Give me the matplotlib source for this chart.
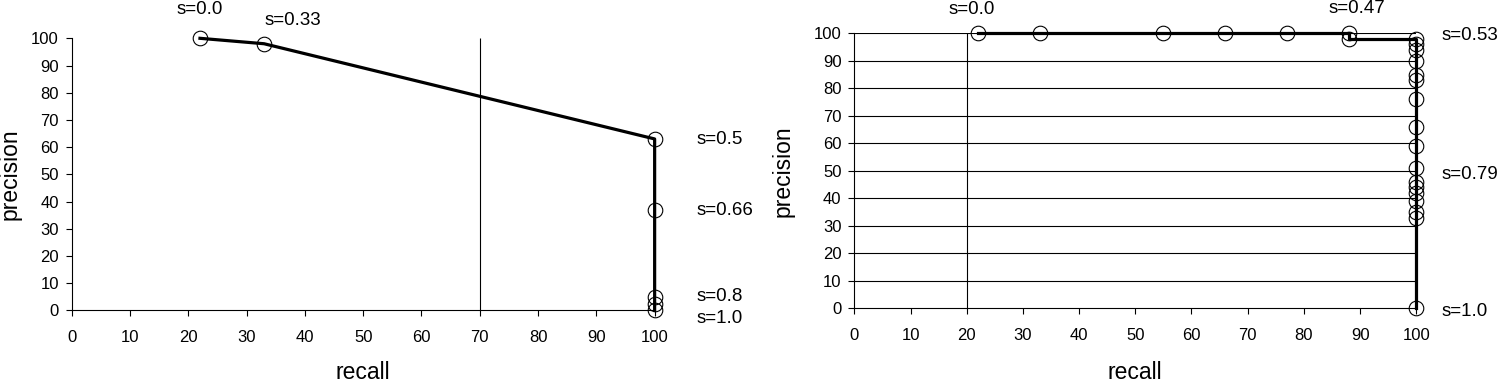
import matplotlib
matplotlib.use("Agg")
import matplotlib.pyplot as plt

plt.rcParams['font.family'] = ['Liberation Sans', 'DejaVu Sans']

# left chart data
left_recall = [22, 33, 100, 100, 100, 100, 100]
left_precision = [100, 98, 63, 37, 5, 2.5, 0]
# (point index, label, offset in px, alignment)
left_labels = [(0, 's=0.0', (0, 29), 'center'),
               (1, 's=0.33', (0, 23), 'left'),
               (2, 's=0.5', (42, -1), 'left'),
               (3, 's=0.66', (42, -1), 'left'),
               (4, 's=0.8', (42, 0), 'left'),
               (6, 's=1.0', (42, -8), 'left')]

# right chart data
right_recall = [22, 33, 55, 66, 77, 88, 88, 100, 100, 100, 100, 100, 100, 100,
                100, 100, 100, 100, 100, 100, 100, 100, 100, 100]
right_precision = [100, 100, 100, 100, 100, 100, 98, 98, 96, 94, 90, 85, 83,
                   76, 66, 59, 51, 46, 44, 42, 39, 35, 33, 0]
right_labels = [(0, 's=0.0', (-6, 24), 'center'),
                (5, 's=0.47', (8, 25), 'center'),
                (7, 's=0.53', (25, 3), 'left'),
                (16, 's=0.79', (25, -6), 'left'),
                (23, 's=1.0', (25, -3), 'left')]

ticks = list(range(0, 101, 10))

fig = plt.figure(figsize=(15.07, 3.83), dpi=100)
ax1 = fig.add_axes([0.0476, 0.1898, 0.3868, 0.7102])
ax2 = fig.add_axes([0.5669, 0.195, 0.3729, 0.718])


def style(ax):
    ax.set_xlim(0, 100)
    ax.set_ylim(0, 100)
    ax.set_xticks(ticks)
    ax.set_yticks(ticks)
    for s in ['top', 'right']:
        ax.spines[s].set_visible(False)
    for s in ['left', 'bottom']:
        ax.spines[s].set_linewidth(0.8)
    ax.tick_params(axis='x', direction='out', length=4, width=0.8, pad=10, labelsize=12)
    ax.tick_params(axis='y', direction='out', length=4.3, width=0.8, pad=5, labelsize=12)
    ax.set_xlabel('recall', fontsize=16.5, va='center')
    ax.set_ylabel('precision', fontsize=16.5, va='center')


def draw(ax, xs, ys, labels):
    ax.plot(xs, ys, color='black', lw=2.3, clip_on=False, zorder=3)
    ax.plot(xs, ys, ls='none', marker='o', ms=10.5, mfc='none', mec='black',
            mew=0.8, clip_on=False, zorder=4)
    for i, txt, off, ha in labels:
        ax.annotate(txt, xy=(xs[i], ys[i]), xytext=off, textcoords='offset pixels',
                    ha=ha, va='center', fontsize=13.5, annotation_clip=False)


style(ax1)
ax1.vlines(70, 0, 100, color='black', lw=0.8, zorder=1)
draw(ax1, left_recall, left_precision, left_labels)
ax1.xaxis.set_label_coords(0.5, -0.227)
ax1.yaxis.set_label_coords(-0.105, 0.5)

style(ax2)
ax2.hlines(ticks[1:], 0, 100, color='black', lw=0.8, zorder=1)
ax2.vlines(20, 0, 100, color='black', lw=0.8, zorder=1)
draw(ax2, right_recall, right_precision, right_labels)
ax2.xaxis.set_label_coords(0.5, -0.232)
ax2.yaxis.set_label_coords(-0.126, 0.5)

fig.savefig('out.png', dpi=100)
